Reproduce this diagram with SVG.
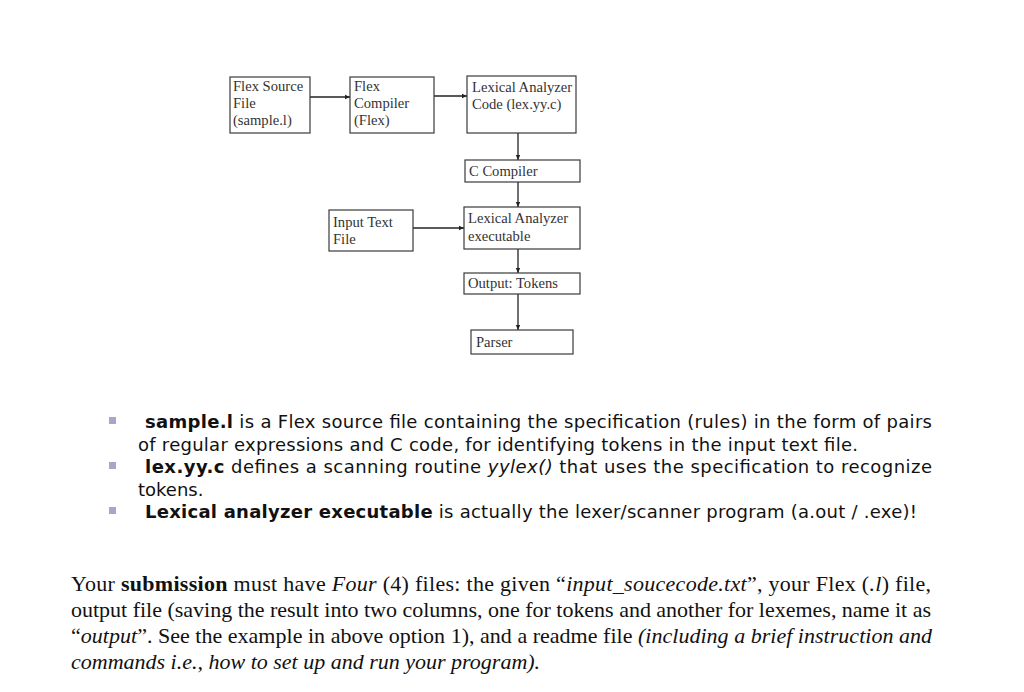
<svg xmlns="http://www.w3.org/2000/svg" width="1024" height="692" viewBox="0 0 1024 692">
<defs>
<marker id="ah" markerWidth="6" markerHeight="6" refX="5" refY="3" orient="auto" markerUnits="userSpaceOnUse">
<path d="M0,0.8 L5,3 L0,5.2 Z" fill="#222"/>
</marker>
<style>
.box{fill:#fff;stroke:#3a3a3a;stroke-width:1.2}
.bt{font-family:"Liberation Serif","Times New Roman",serif;font-size:14.6px;fill:#333}
.conn{stroke:#222;stroke-width:1.3;fill:none;marker-end:url(#ah)}
.bl{font-family:"DejaVu Sans",Verdana,sans-serif;font-size:18px;fill:#111}
.pa{font-family:"Liberation Serif","Times New Roman",serif;font-size:22px;fill:#111}
.sq{fill:#a7a7c9}
</style>
</defs>
<rect width="1024" height="692" fill="#fff"/>
<g id="connectors">
<line class="conn" x1="310" y1="97" x2="350" y2="97"/>
<line class="conn" x1="434" y1="96" x2="467" y2="96"/>
<line class="conn" x1="518" y1="133" x2="518" y2="160"/>
<line class="conn" x1="518" y1="182" x2="518" y2="207"/>
<line class="conn" x1="413" y1="228" x2="464" y2="228"/>
<line class="conn" x1="518" y1="249" x2="518" y2="273"/>
<line class="conn" x1="518" y1="294" x2="518" y2="330"/>
</g>
<g id="n-flexsource">
<rect class="box" x="230" y="77" width="80" height="56"/>
<text class="bt" x="233" y="91">Flex Source</text>
<text class="bt" x="233" y="108">File</text>
<text class="bt" x="233" y="125">(sample.l)</text>
</g>
<g id="n-flexcompiler">
<rect class="box" x="350" y="77" width="84" height="56"/>
<text class="bt" x="354" y="91">Flex</text>
<text class="bt" x="354" y="108">Compiler</text>
<text class="bt" x="354" y="125">(Flex)</text>
</g>
<g id="n-lexcode">
<rect class="box" x="467" y="76" width="109" height="57"/>
<text class="bt" x="472" y="92">Lexical Analyzer</text>
<text class="bt" x="472" y="109">Code (lex.yy.c)</text>
</g>
<g id="n-ccompiler">
<rect class="box" x="465" y="160" width="115" height="22"/>
<text class="bt" x="469" y="176">C Compiler</text>
</g>
<g id="n-inputtext">
<rect class="box" x="329" y="210" width="84" height="41"/>
<text class="bt" x="333" y="227">Input Text</text>
<text class="bt" x="333" y="244">File</text>
</g>
<g id="n-lexexe">
<rect class="box" x="464" y="207" width="116" height="42"/>
<text class="bt" x="468" y="223">Lexical Analyzer</text>
<text class="bt" x="468" y="241">executable</text>
</g>
<g id="n-output">
<rect class="box" x="464" y="273" width="116" height="21"/>
<text class="bt" x="468" y="288">Output: Tokens</text>
</g>
<g id="n-parser">
<rect class="box" x="471" y="330" width="102" height="24"/>
<text class="bt" x="476" y="347">Parser</text>
</g>
<g id="bullets">
<rect class="sq" x="109" y="417" width="7" height="7"/>
<rect class="sq" x="109" y="462" width="7" height="7"/>
<rect class="sq" x="109" y="507" width="7" height="7"/>
<text class="bl" x="145" y="428" textLength="787" lengthAdjust="spacing"><tspan font-weight="bold">sample.l</tspan> is a Flex source file containing the specification (rules) in the form of pairs</text>
<text class="bl" x="138" y="451" textLength="720" lengthAdjust="spacing">of regular expressions and C code, for identifying tokens in the input text file.</text>
<text class="bl" x="145" y="473" textLength="787" lengthAdjust="spacing"><tspan font-weight="bold">lex.yy.c</tspan> defines a scanning routine <tspan font-style="italic">yylex()</tspan> that uses the specification to recognize</text>
<text class="bl" x="138" y="496">tokens.</text>
<text class="bl" x="145" y="518" textLength="772" lengthAdjust="spacing"><tspan font-weight="bold">Lexical analyzer executable</tspan> is actually the lexer/scanner program (a.out / .exe)!</text>
</g>
<g id="paragraph">
<text class="pa" x="71" y="591" textLength="860" lengthAdjust="spacing">Your <tspan font-weight="bold">submission</tspan> must have <tspan font-style="italic">Four</tspan> (4) files: the given “<tspan font-style="italic">input_soucecode.txt</tspan>”, your Flex (<tspan font-style="italic">.l</tspan>) file,</text>
<text class="pa" x="71" y="617" textLength="860" lengthAdjust="spacing">output file (saving the result into two columns, one for tokens and another for lexemes, name it as</text>
<text class="pa" x="71" y="643" textLength="861" lengthAdjust="spacing">“<tspan font-style="italic">output</tspan>”. See the example in above option 1), and a readme file <tspan font-style="italic">(including a brief instruction and</tspan></text>
<text class="pa" x="71" y="669" font-style="italic">commands i.e., how to set up and run your program).</text>
</g>
</svg>
